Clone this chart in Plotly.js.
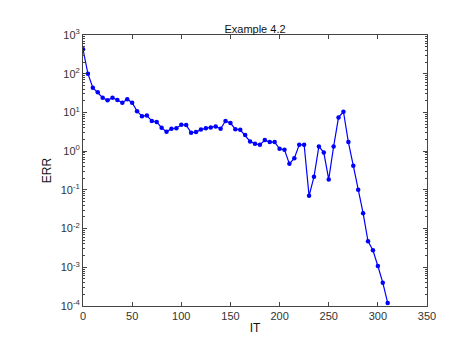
<!DOCTYPE html>
<html>
<head>
<meta charset="utf-8">
<script src="https://cdn.plot.ly/plotly-3.0.1.min.js"></script>
<style>html,body{margin:0;padding:0;background:#fff;}#chart{width:474px;height:344px;}</style>
</head>
<body>
<div id="chart"></div>
<script>
const iterations = [0,5,10,15,20,25,30,35,40,45,50,55,60,65,70,75,80,85,90,95,100,105,110,115,120,125,130,135,140,145,150,155,160,165,170,175,180,185,190,195,200,205,210,215,220,225,230,235,240,245,250,255,260,265,270,275,280,285,290,295,300,305,310];
const errValues = [427,100,43.4,33,24,20.5,24,21,17.8,22,17.8,10.8,8.0,8.3,6.0,5.7,4.0,3.15,3.8,3.9,4.8,4.7,3.0,3.1,3.6,3.9,4.1,4.35,3.8,6.0,5.3,3.7,3.56,2.6,1.78,1.55,1.46,1.93,1.71,1.71,1.15,1.08,0.47,0.66,1.46,1.46,0.070,0.217,1.32,0.92,0.186,1.32,7.45,10.4,1.71,0.42,0.1,0.025,0.0047,0.00275,0.00108,0.0004,0.00012];
const xTickVals = [0,50,100,150,200,250,300,350];
const yTickVals = [1e-4,1e-3,1e-2,1e-1,1,10,100,1000];
const yTickText = ['10<sup>-4</sup>','10<sup>-3</sup>','10<sup>-2</sup>','10<sup>-1</sup>','10<sup>0</sup>','10<sup>1</sup>','10<sup>2</sup>','10<sup>3</sup>'];
const chartTitle = 'Example 4.2';
const xLabel = 'IT';
const yLabel = 'ERR';

const fontFam = '"Liberation Sans", Arial, Helvetica, sans-serif';
const axisCol = '#444';

// minor tick positions on the log axis (2..9 in each decade)
const minorVals = [];
for (let e = -4; e < 3; e++) for (let m = 2; m <= 9; m++) minorVals.push(m * Math.pow(10, e));

const trace = {
  x: iterations, y: errValues, type: 'scatter', mode: 'lines+markers',
  line: {color: '#0000ff', width: 1.2},
  marker: {color: '#0000ff', size: 4.5, symbol: 'circle'},
  cliponaxis: true, showlegend: false
};

const layout = {
  width: 474, height: 344,
  margin: {l: 83, r: 47, t: 35, b: 38, pad: 0},
  paper_bgcolor: '#fff', plot_bgcolor: '#fff',
  font: {family: fontFam, size: 11, color: '#222'},
  title: {text: chartTitle, font: {family: fontFam, size: 11, color: '#111'}, x: 0.5, xref: 'paper', y: 1, yref: 'paper', yanchor: 'bottom', pad: {b: 2}},
  xaxis: {
    range: [0, 350], tickvals: xTickVals, ticktext: xTickVals.map(String),
    ticks: 'inside', ticklen: 4, tickcolor: axisCol, tickwidth: 1,
    showline: true, linecolor: axisCol, linewidth: 1, mirror: 'ticks',
    showgrid: false, zeroline: false,
    tickfont: {family: fontFam, size: 11, color: '#333'},
    title: {text: xLabel, font: {family: fontFam, size: 12, color: '#111'}, standoff: 2}
  },
  yaxis: {
    type: 'log', range: [-4, 3], tickvals: yTickVals, ticktext: yTickText,
    ticks: 'inside', ticklen: 4, tickcolor: axisCol, tickwidth: 1,
    showline: true, linecolor: axisCol, linewidth: 1, mirror: 'ticks',
    showgrid: false, zeroline: false,
    minor: {ticks: 'inside', ticklen: 2, tickcolor: axisCol, tickvals: minorVals, showgrid: false},
    tickfont: {family: fontFam, size: 11, color: '#333'},
    title: {text: yLabel, font: {family: fontFam, size: 12, color: '#111'}, standoff: 6}
  }
};

Plotly.newPlot('chart', [trace], layout, {displayModeBar: false, staticPlot: true});
</script>
</body>
</html>
